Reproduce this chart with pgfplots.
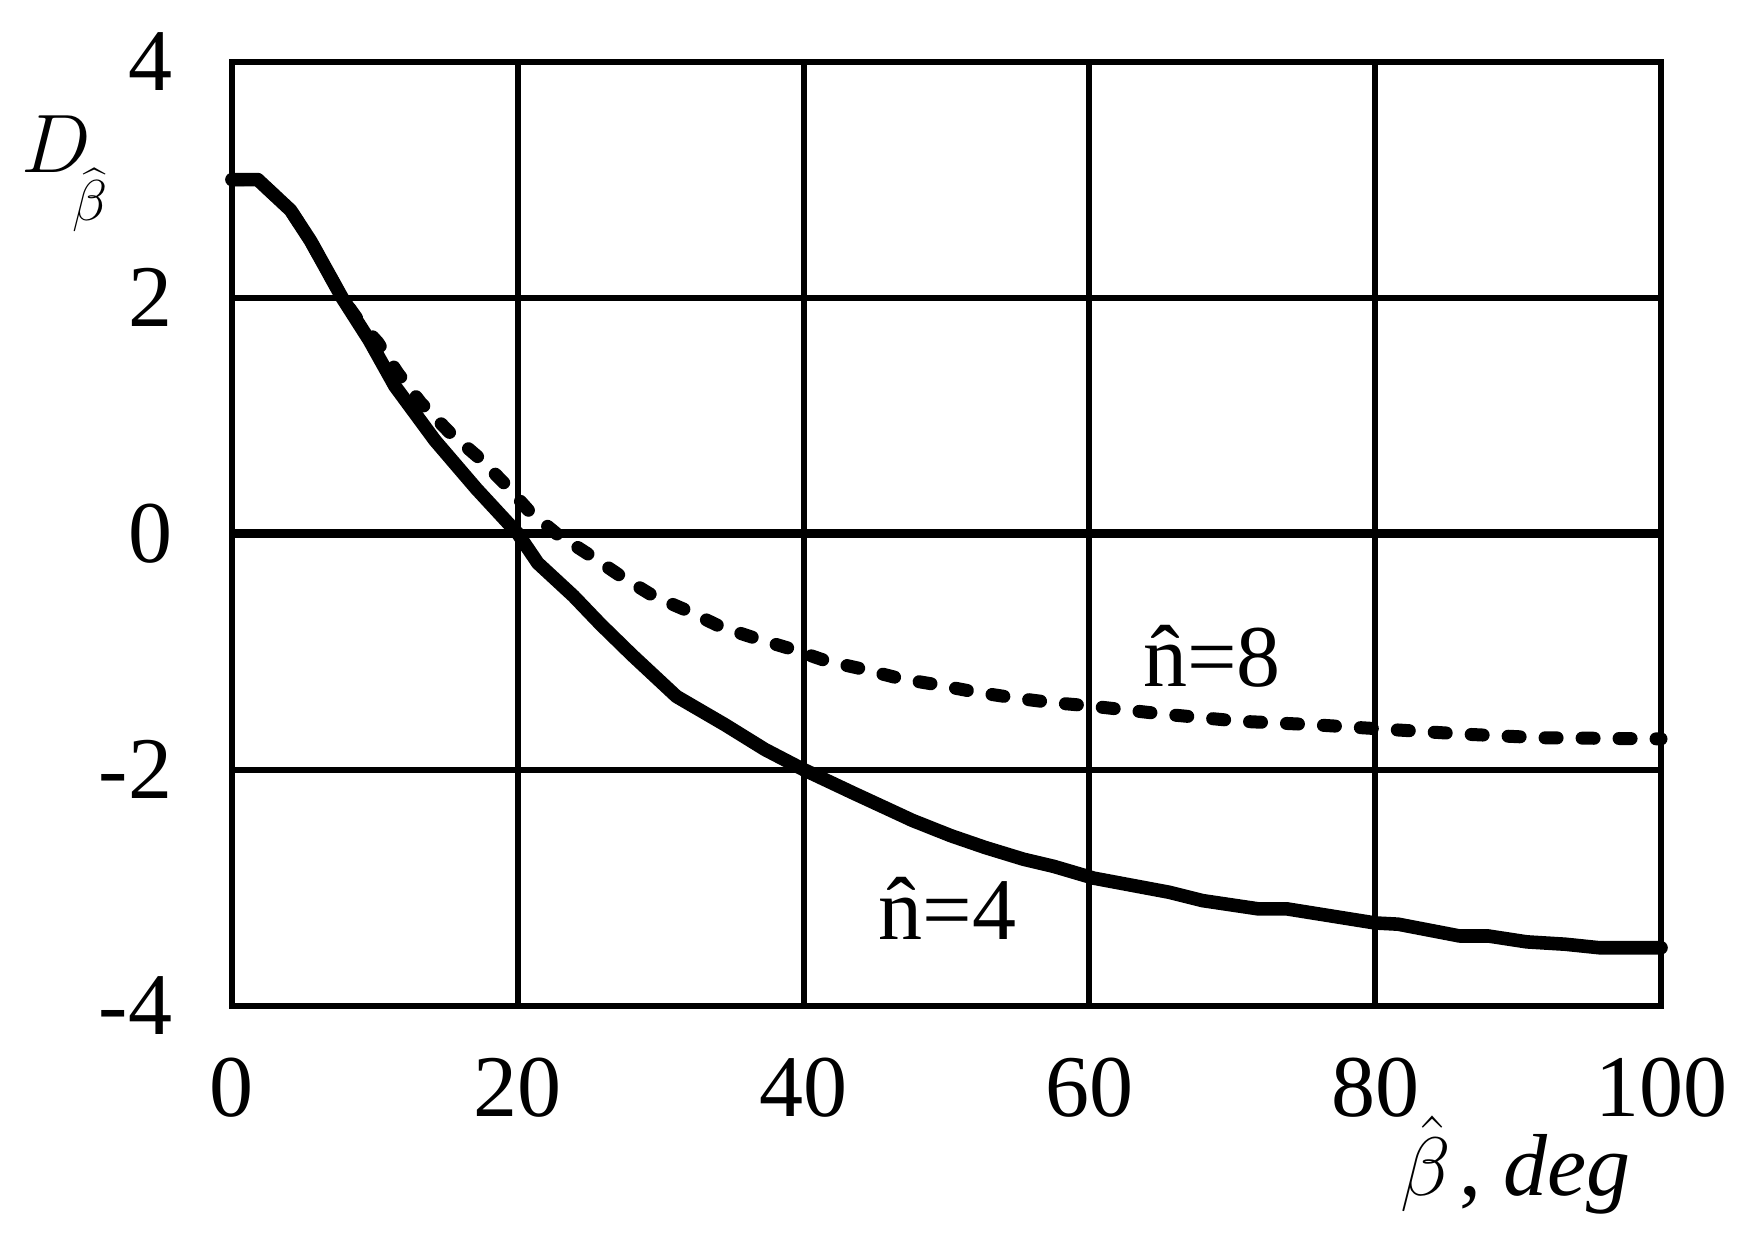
\documentclass[border=0pt]{standalone}
\usepackage{fontspec}
\setmainfont{Liberation Serif}
\usepackage{pgfplots}
\pgfplotsset{compat=1.18}
\begin{document}
\begin{tikzpicture}
\useasboundingbox (-58pt,-57.9pt) rectangle (380.5pt,251.4pt);
\begin{axis}[
  at={(0,0)}, anchor=south west,
  scale only axis, width=357.25pt, height=236pt,
  xmin=0, xmax=100, ymin=-4, ymax=4,
  xtick={0,20,40,60,80,100}, xticklabels={0,20,40,60,80,100},
  ytick={-4,-2,2,4}, yticklabels={-4,-2,2,4},
  extra y ticks={0}, extra y tick labels={0},
  extra y tick style={grid style={black, line width=2.2pt}},
  major tick length=0pt,
  grid=major, grid style={black, line width=1.5pt},
  axis line style={line width=1.5pt},
  ticklabel style={font=\fontsize{22}{26}\selectfont, inner sep=0pt},
  xticklabel style={yshift=-12.9pt},
  yticklabel style={xshift=-14.75pt},
  clip=false,
]
\addplot[black, line width=3.4pt, line cap=round, line join=round] coordinates {
(0,3.0) (1.8,3.0) (4.1,2.74) (5.5,2.48) (7.7,2.0) (9.6,1.64) (11.4,1.25) (14.2,0.79)
(17.1,0.38) (20,0) (21.4,-0.25) (23.9,-0.53) (25.8,-0.77) (28,-1.03) (31.1,-1.38)
(34.5,-1.62) (37.3,-1.83) (40,-2.0) (43.5,-2.2) (46,-2.34) (47.6,-2.43) (50.3,-2.56)
(52.7,-2.66) (55.4,-2.76) (57.5,-2.82) (60.3,-2.92) (65.6,-3.04) (67.9,-3.11)
(71.8,-3.18) (73.8,-3.18) (80,-3.30) (81.6,-3.31) (85.9,-3.41) (87.9,-3.41)
(90.6,-3.46) (93.3,-3.48) (95.7,-3.51) (100,-3.51)
};
\addplot[black, line width=3.25pt, line cap=round, line join=round, dash pattern=on 3pt off 6.25pt] coordinates {
(0,3.0) (1.8,3.0) (4.1,2.74) (5.5,2.48) (7.7,2.0) (9.0,1.78) (10.2,1.62) (11.6,1.36)
(13.2,1.11) (15.2,0.86) (17.4,0.63) (19.1,0.42) (20.8,0.19) (22.7,0.0) (25,-0.18)
(27.2,-0.36) (29.5,-0.53) (31.8,-0.65) (34.2,-0.79) (36.7,-0.89) (39.2,-0.98)
(41.6,-1.08) (44.2,-1.15) (46.8,-1.23) (49.3,-1.28) (51.9,-1.34) (54.6,-1.39)
(57.2,-1.43) (60,-1.46) (65.2,-1.53) (70.5,-1.59) (75.7,-1.62) (81,-1.66)
(86.3,-1.70) (91.5,-1.73) (100,-1.74)
};
\node[anchor=base west, inner sep=0pt, font=\fontsize{22}{26}\selectfont] at (axis cs:63.7,-1.30) {\^{n}=8};
\node[anchor=base west, inner sep=0pt, font=\fontsize{22}{26}\selectfont] at (axis cs:45.2,-3.44) {\^{n}=4};
\node[anchor=base east, inner sep=0pt, font=\fontsize{22}{26}\selectfont] at (rel axis cs:0.979,-0.2007) {$\hat{\beta}$\hspace{2pt}, \textit{deg}};
\node[anchor=base west, inner sep=0pt, font=\fontsize{22}{26}\selectfont] at (rel axis cs:-0.148,0.883) {$D$};
\node[anchor=base west, inner sep=0pt, font=\fontsize{15.4}{18}\selectfont] at (rel axis cs:-0.112,0.832) {$\widehat{\beta}$};
\end{axis}
\end{tikzpicture}
\end{document}
